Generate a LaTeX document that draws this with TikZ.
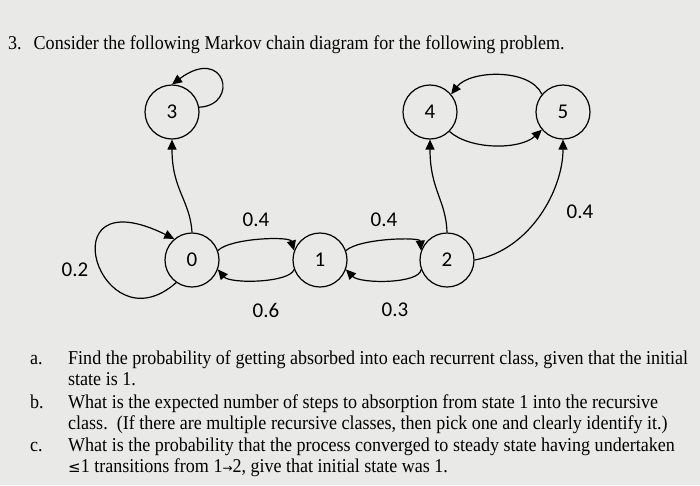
\documentclass[tikz,border=0pt]{standalone}
\usepackage{fontspec}
\setmainfont{Liberation Serif}[FakeStretch=0.92]
\newfontfamily\nodefont{Carlito}
\newfontfamily\symfont{DejaVu Sans}
\usetikzlibrary{arrows.meta}
\definecolor{bg}{HTML}{E9EAE8}
\begin{document}
\begin{tikzpicture}[x=1pt,y=-1pt,
  st/.style={circle,draw,line width=1.2pt,minimum size=54pt,inner sep=0pt,font=\nodefont\fontsize{21}{21}\selectfont},
  ed/.style={draw,line width=1.2pt,-{Triangle[length=10pt,width=9pt]}},
  lab/.style={font=\nodefont\fontsize{21}{21}\selectfont},
  txt/.style={anchor=base west,inner sep=0pt,font=\fontsize{19.6}{21}\selectfont}]
\fill[bg] (0,0) rectangle (700,485);
\useasboundingbox (0,0) rectangle (700,485);
\node[st] (n3) at (172,112) {3};
\node[st] (n4) at (430,112) {4};
\node[st] (n5) at (563,112) {5};
\node[st] (n0) at (192,260) {0};
\node[st] (n1) at (320,260) {1};
\node[st] (n2) at (447,260) {2};
% edges
\draw[ed] (n0.north) .. controls (190,200) and (172,190) .. (n3.south);
\draw[ed] (n3.10) .. controls (240,105) and (225,45) .. (n3.north);
\draw[ed] (n0.-125) .. controls (100,350) and (45,175) .. (n0.130);
\draw[ed] (n0.20) .. controls (230,238) and (290,236) .. (n1.160);
\draw[ed] (n1.-160) .. controls (290,283) and (230,284) .. (n0.-20);
\draw[ed] (n1.20) .. controls (360,238) and (420,237) .. (n2.160);
\draw[ed] (n2.-160) .. controls (420,284) and (360,284) .. (n1.-20);
\draw[ed] (n2.north) .. controls (446,200) and (430,190) .. (n4.south);
\draw[ed] (n4.-45) .. controls (470,150) and (520,150) .. (n5.-140);
\draw[ed] (n5.140) .. controls (530,68) and (470,70) .. (n4.40);
\draw[ed] (n2.east) .. controls (530,250) and (563,190) .. (n5.south);
% labels
\node[lab] (l1) at (256,220) {0.4};
\node[lab] (l2) at (384,220) {0.4};
\node[lab] (l3) at (580,212) {0.4};
\node[lab] (l4) at (75,270) {0.2};
\node[lab] (l5) at (266,310) {0.6};
\node[lab] (l6) at (395,310) {0.3};
% text
\node[txt] (t0) at (8,49) {3.\hspace{12pt}Consider the following Markov chain diagram for the following problem.};
\node[txt] (ta) at (30,364) {a.};
\node[txt] (ta1) at (68,364) {Find the probability of getting absorbed into each recurrent class, given that the initial};
\node[txt] (ta2) at (68,385) {state is 1.};
\node[txt] (tb) at (30,408) {b.};
\node[txt] (tb1) at (68,408) {What is the expected number of steps to absorption from state 1 into the recursive};
\node[txt] (tb2) at (68,429) {class.\ \ (If there are multiple recursive classes, then pick one and clearly identify it.)};
\node[txt] (tc) at (30,451) {c.};
\node[txt] (tc1) at (68,451) {What is the probability that the process converged to steady state having undertaken};
\node[txt] (tc2) at (68,472) {{\symfont\fontsize{15}{15}\selectfont ≤}1 transitions from 1{\symfont\fontsize{12}{12}\selectfont →}2, give that initial state was 1.};
\end{tikzpicture}
\end{document}
